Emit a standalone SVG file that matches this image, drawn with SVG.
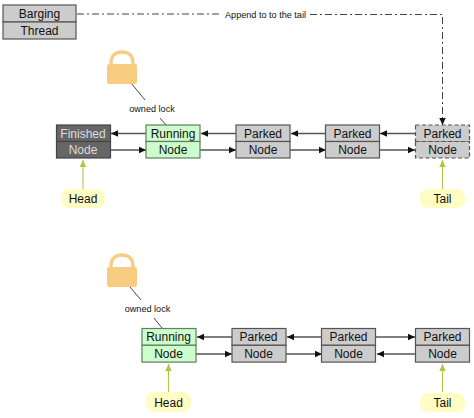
<svg xmlns="http://www.w3.org/2000/svg" width="474" height="418" viewBox="0 0 474 418">
<defs>
<marker id="ah" markerUnits="userSpaceOnUse" markerWidth="8" markerHeight="8" refX="7" refY="4" orient="auto"><path d="M0 .8L7 4L0 7.2z" fill="#111"/></marker>
<marker id="ay" markerUnits="userSpaceOnUse" markerWidth="8" markerHeight="8" refX="7" refY="4" orient="auto"><path d="M0 .8L7 4L0 7.2z" fill="#b5c24a"/></marker>
<g id="lock"><path d="M-11 15V7C-11 -1 -6 -4 0 -4S11 -1 11 7V15" fill="none" stroke="#f8cd82" stroke-width="3.4"/><rect x="-15" y="8" width="30" height="20" rx="2" fill="#f8cd82"/></g>
</defs>
<style>
text{font-family:"Liberation Sans",Arial,sans-serif;font-size:12px;text-anchor:middle;fill:#111}
.s{font-size:9.1px}
.gray{fill:#ccc;stroke:#555;stroke-width:1.2}
.green{fill:#cdfccd;stroke:#5f7f5f;stroke-width:1.2}
.dark{fill:#666;stroke:#444;stroke-width:1.2}
.dash{stroke-dasharray:4 2.500}
.w{fill:#ddd}
.pill{fill:#fffdc4}
.c{fill:none;stroke:#555;stroke-width:1.3;marker-end:url(#ah)}
.y{fill:none;stroke:#b5c24a;stroke-width:1.1;marker-end:url(#ay)}
.l{fill:none;stroke:#333;stroke-width:.9}
.dd{fill:none;stroke:#444;stroke-width:1;stroke-dasharray:7 3 2 3}
</style>
<g id="connectors">
<path class="dd" d="M77 14H221"/>
<path class="dd" d="M310 14.500H442.500V125" marker-end="url(#ah)"/>
<path class="c" d="M146 133.500H111"/><path class="c" d="M110 150H146"/>
<path class="c" d="M236 133.500H201"/><path class="c" d="M200 150H236"/>
<path class="c" d="M326 133.500H291"/><path class="c" d="M290 150H326"/>
<path class="c" d="M416 133.500H380"/><path class="c" d="M380 150H415"/>
<path class="y" d="M83 189V160"/><path class="y" d="M442.500 189V160"/>
<path class="l" d="M131 83L145 100M160 118L166 125"/>
<path class="c" d="M232 337H197"/><path class="c" d="M196 354H232"/>
<path class="c" d="M322 337H287"/><path class="c" d="M286 354H322"/>
<path class="c" d="M376 337H415"/><path class="c" d="M415 354H377"/>
<path class="y" d="M168.500 392V364"/><path class="y" d="M442.500 392V364"/>
<path class="l" d="M130 287L141 300M154 318L162 328"/>
</g>
<g id="barging"><rect class="gray" x="3" y="5" width="73" height="17"/><rect class="gray" x="3" y="22" width="73" height="17"/><text x="39.500" y="18">Barging</text><text x="39.500" y="34.500">Thread</text></g>
<text x="265.500" y="18" class="s">Append to to the tail</text>
<use id="lock1" href="#lock" x="122" y="56"/>
<text x="152" y="112" class="s">owned lock</text>
<g id="n1"><rect class="dark" x="56.500" y="125" width="54" height="16.500"/><rect class="dark" x="56.500" y="141.500" width="54" height="16.500"/><text class="w" x="83" y="137.500">Finished</text><text class="w" x="83" y="154">Node</text></g>
<g id="n2"><rect class="green" x="146" y="125" width="54" height="16.500"/><rect class="green" x="146" y="141.500" width="54" height="16.500"/><text x="173" y="137.500">Running</text><text x="173" y="154">Node</text></g>
<g id="n3"><rect class="gray" x="236" y="125" width="54" height="16.500"/><rect class="gray" x="236" y="141.500" width="54" height="16.500"/><text x="263" y="137.500">Parked</text><text x="263" y="154">Node</text></g>
<g id="n4"><rect class="gray" x="325.500" y="125" width="54" height="16.500"/><rect class="gray" x="325.500" y="141.500" width="54" height="16.500"/><text x="352.500" y="137.500">Parked</text><text x="352.500" y="154">Node</text></g>
<g id="n5"><rect class="gray dash" x="415.500" y="125" width="54" height="16.500"/><rect class="gray dash" x="415.500" y="141.500" width="54" height="16.500"/><text x="442.500" y="137.500">Parked</text><text x="442.500" y="154">Node</text></g>
<g id="head1"><rect class="pill" x="61" y="189" width="44" height="19" rx="8"/><text x="83" y="203">Head</text></g>
<g id="tail1"><rect class="pill" x="420" y="189" width="45" height="19" rx="8"/><text x="442.500" y="203">Tail</text></g>
<use id="lock2" href="#lock" x="122" y="259"/>
<text x="147.500" y="312" class="s">owned lock</text>
<g id="m1"><rect class="green" x="142" y="328.500" width="54" height="16.800"/><rect class="green" x="142" y="345.300" width="54" height="16.800"/><text x="168.500" y="341">Running</text><text x="168.500" y="358">Node</text></g>
<g id="m2"><rect class="gray" x="232" y="328.500" width="54" height="16.800"/><rect class="gray" x="232" y="345.300" width="54" height="16.800"/><text x="258.500" y="341">Parked</text><text x="258.500" y="358">Node</text></g>
<g id="m3"><rect class="gray" x="321.500" y="328.500" width="54" height="16.800"/><rect class="gray" x="321.500" y="345.300" width="54" height="16.800"/><text x="348.500" y="341">Parked</text><text x="348.500" y="358">Node</text></g>
<g id="m4"><rect class="gray" x="415.500" y="328.500" width="54" height="16.800"/><rect class="gray" x="415.500" y="345.300" width="54" height="16.800"/><text x="442.500" y="341">Parked</text><text x="442.500" y="358">Node</text></g>
<g id="head2"><rect class="pill" x="146" y="392" width="45" height="20" rx="8"/><text x="168.500" y="406.500">Head</text></g>
<g id="tail2"><rect class="pill" x="420" y="393" width="45" height="19" rx="8"/><text x="442.500" y="407">Tail</text></g>
</svg>
